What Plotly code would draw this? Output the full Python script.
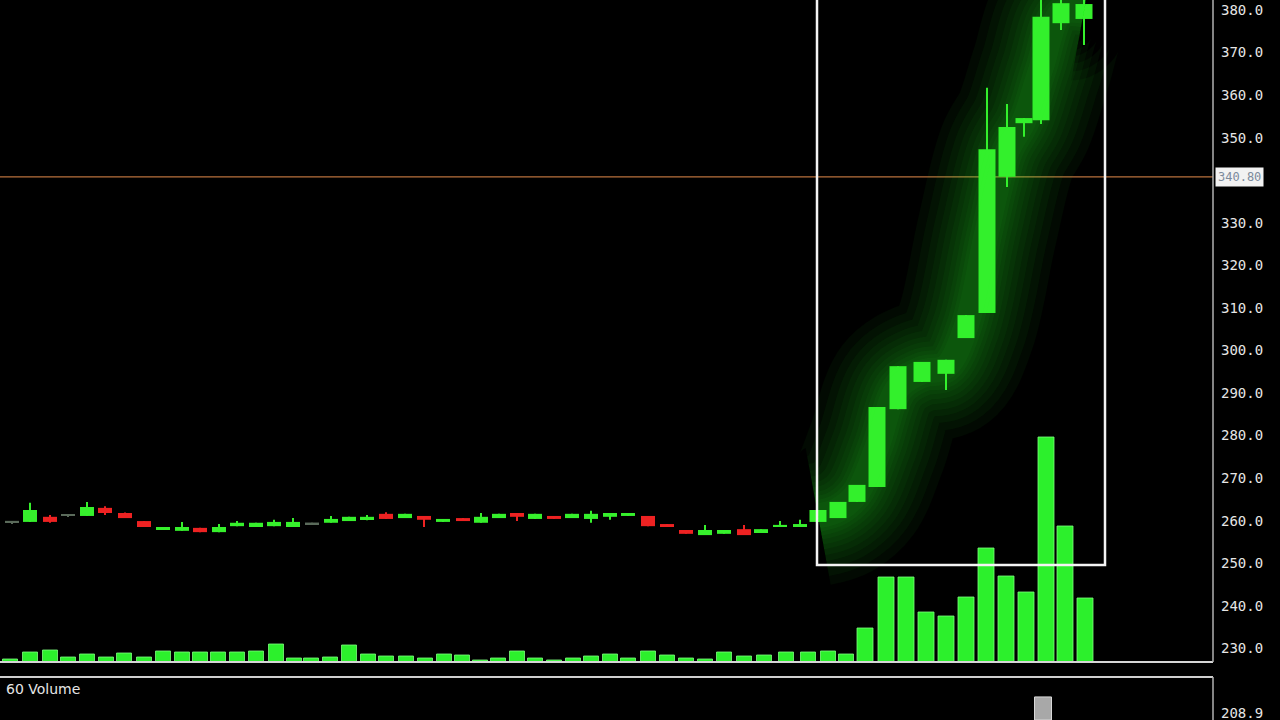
import plotly.graph_objects as go

# ---------------- data ----------------
t = [12, 30, 50, 68, 87, 105, 125, 144, 163, 182, 200, 219, 237, 256, 274, 293, 312, 331, 349, 367,
     386, 405, 424, 443, 463, 481, 499, 517, 535, 554, 572, 591, 610, 628, 648, 667, 686, 705, 724, 744,
     761, 780, 800, 818, 838, 857, 877, 898, 922, 946, 966, 987, 1007, 1024, 1041, 1061, 1084]
opens = [259.5, 259.7, 260.9, 261.1, 261.1, 263.0, 261.8, 259.9, 257.8, 257.6, 258.3, 257.3, 258.7, 258.5, 258.7,
         258.5, 259.1, 259.5, 259.9, 260.15, 261.6, 260.6, 261.1, 259.7, 260.6, 259.5, 260.6, 261.8, 260.4, 261.1,
         260.6, 260.4, 260.9, 261.1, 261.1, 259.2, 257.8, 256.6, 256.9, 258.0, 257.1, 258.5, 258.5, 259.7, 260.6,
         264.4, 267.9, 286.2, 292.6, 294.5, 302.9, 308.8, 340.8, 353.4, 354.1, 376.9, 377.9]
highs = [259.8, 264.2, 261.3, 261.3, 264.4, 263.4, 261.9, 259.9, 258.5, 259.7, 258.3, 259.2, 259.9, 259.5, 260.2,
         260.6, 259.5, 261.1, 260.9, 261.3, 262.0, 261.6, 261.1, 260.4, 260.6, 261.8, 261.6, 261.8, 261.6, 261.1,
         261.6, 262.3, 261.8, 261.8, 261.1, 259.2, 257.8, 259.0, 257.8, 259.0, 258.0, 259.9, 260.2, 262.5, 264.4,
         268.4, 286.7, 296.3, 297.3, 297.8, 308.3, 361.7, 357.9, 354.6, 384.0, 384.0, 384.0]
lows = [259.2, 259.7, 259.5, 260.9, 261.1, 261.3, 260.6, 258.5, 257.8, 257.6, 257.3, 257.3, 258.7, 258.5, 258.7,
        258.5, 259.0, 259.5, 259.9, 260.1, 260.4, 260.6, 258.5, 259.7, 259.9, 259.5, 260.6, 259.9, 260.4, 260.4,
        260.6, 259.5, 260.2, 261.1, 258.7, 258.5, 256.9, 256.6, 256.9, 256.6, 257.1, 258.5, 258.5, 259.7, 260.6,
        264.4, 267.9, 286.2, 292.6, 290.7, 302.9, 308.8, 338.4, 350.2, 353.2, 375.3, 371.8]
closes = [259.6, 262.5, 259.7, 261.2, 263.2, 261.8, 260.6, 258.5, 258.5, 258.5, 257.3, 258.5, 259.5, 259.5, 259.7,
          259.7, 259.2, 260.4, 260.9, 260.9, 260.4, 261.6, 260.2, 260.4, 259.9, 260.9, 261.6, 260.9, 261.6, 260.4,
          261.6, 261.6, 261.8, 261.8, 258.7, 258.5, 256.9, 257.8, 257.8, 256.6, 258.0, 259.0, 259.2, 262.5, 264.4,
          268.4, 286.7, 296.3, 297.3, 297.8, 308.3, 347.3, 352.5, 354.6, 378.4, 381.6, 381.4]

vol_t = [10, 30, 50, 68, 87, 106, 124, 144, 163, 182, 200, 218, 237, 256, 276, 294, 311, 330, 349, 368,
         386, 406, 425, 444, 462, 480, 498, 517, 535, 554, 573, 591, 610, 628, 648, 667, 686, 705, 724, 744,
         764, 786, 808, 828, 846, 865, 886, 906, 926, 946, 966, 986, 1006, 1026, 1046, 1065, 1085]
volume = [30, 100, 120, 50, 80, 50, 90, 50, 110, 100, 100, 100, 100, 110, 180, 40, 40, 50, 170, 80,
          60, 60, 40, 80, 70, 20, 40, 110, 40, 20, 40, 60, 80, 40, 110, 70, 40, 30, 100, 60,
          70, 100, 100, 110, 80, 340, 850, 850, 500, 460, 650, 1140, 860, 700, 2250, 1360, 640]

osc_t = [1043]
osc_val = [218.4]

price_ticks = [230, 240, 250, 260, 270, 280, 290, 300, 310, 320, 330, 350, 360, 370, 380]
osc_ticks = [208.9]
last_price = 340.8
panel_label = "60 Volume"

# ---------------- styling ----------------
GREEN = "#36f02c"
RED = "#ee2222"
GRAY = "#5a6a5a"
RISE_START = 43
PW = 1213  # plot-area width in px

colors = []
for o, c in zip(opens, closes):
    if abs(c - o) < 0.2:
        colors.append(GRAY)
    elif c > o:
        colors.append(GREEN)
    else:
        colors.append(RED)

body_base = [min(o, c) for o, c in zip(opens, closes)]
body_h = [max(abs(c - o), 0.45) for o, c in zip(opens, closes)]
wick_h = [h - l for h, l in zip(highs, lows)]
body_w = [14 if i < RISE_START else 17 for i in range(len(t))]
vol_w = [15 if v < 300 else 16 for v in volume]

fig = go.Figure()

# soft glow along the breakout (derived from candle mid-points)
gx = t[RISE_START:]
gy = [(o + c) / 2 for o, c in zip(opens[RISE_START:], closes[RISE_START:])]
for w in [140, 122, 106, 92, 80, 68, 58, 48, 40, 32, 25]:
    fig.add_trace(go.Scatter(x=gx, y=gy, mode="lines",
                             line=dict(color="rgba(40,255,40,0.038)", width=w, shape="spline"),
                             hoverinfo="skip", showlegend=False))

# wicks
fig.add_trace(go.Bar(x=t, y=wick_h, base=lows, width=2, marker=dict(color=colors, line=dict(width=0)),
                     showlegend=False, hoverinfo="skip"))
# bodies
fig.add_trace(go.Bar(x=t, y=body_h, base=body_base, width=body_w, marker=dict(color=colors, line=dict(width=0)),
                     showlegend=False, name="price"))
# volume
fig.add_trace(go.Bar(x=vol_t, y=volume, width=vol_w, yaxis="y2",
                     marker=dict(color="#2cf02c", line=dict(width=0.8, color="#7dff7d")),
                     showlegend=False, name="volume"))
# lower panel
fig.add_trace(go.Bar(x=osc_t, y=[v - 205 for v in osc_val], base=205, width=17, yaxis="y3",
                     marker=dict(color="#a8a8a8", line=dict(width=1, color="#d8d8d8")),
                     showlegend=False, name="osc"))

BOT = 58 / 720
PANEL_TOP = 43 / 720

fig.update_layout(
    width=1280, height=720,
    paper_bgcolor="black", plot_bgcolor="black",
    margin=dict(l=0, r=1280 - PW, t=0, b=0, autoexpand=False),
    barmode="overlay",
    xaxis=dict(range=[0, PW], visible=False, showgrid=False, zeroline=False),
    yaxis=dict(domain=[BOT, 1], range=[226.78, 382.35], side="right", tickvals=price_ticks,
               tickformat=".1f", showgrid=False, zeroline=False, showline=False, ticks="",
               ticklabelstandoff=7,
               tickfont=dict(family="DejaVu Sans Mono", size=14, color="#e6e6e6")),
    yaxis2=dict(domain=[BOT, 1], range=[0, 6620], overlaying="y", visible=False),
    yaxis3=dict(domain=[0, PANEL_TOP], range=[205, 230], side="right", anchor="x", tickvals=osc_ticks,
                tickformat=".1f", showgrid=False, zeroline=False, showline=False, ticks="",
                ticklabelstandoff=7, ticklabeloverflow="allow",
                tickfont=dict(family="DejaVu Sans Mono", size=14, color="#e6e6e6")),
    shapes=[
        dict(type="line", xref="paper", yref="y", x0=0, x1=1, y0=last_price, y1=last_price,
             line=dict(color="#b8703c", width=1.3), layer="below"),
        dict(type="rect", xref="x", yref="y", x0=817, x1=1105, y0=249.6, y1=392,
             line=dict(color="#f4f4f4", width=2.5)),
        dict(type="line", xref="paper", yref="paper", x0=0, x1=1, y0=BOT, y1=BOT,
             line=dict(color="#d6d6d6", width=2)),
        dict(type="line", xref="paper", yref="paper", x0=1, x1=1, y0=BOT, y1=1,
             line=dict(color="#b0b0b0", width=1.5)),
        dict(type="line", xref="paper", yref="paper", x0=0, x1=1, y0=PANEL_TOP, y1=PANEL_TOP,
             line=dict(color="#cfcfcf", width=2)),
        dict(type="line", xref="paper", yref="paper", x0=1, x1=1, y0=0, y1=PANEL_TOP,
             line=dict(color="#b0b0b0", width=1.5)),
    ],
    annotations=[
        dict(xref="paper", yref="y", x=1215 / PW, y=last_price, xanchor="left", yanchor="middle",
             text=f"{last_price:.2f}", showarrow=False, bgcolor="#f2f2f2", borderpad=2,
             font=dict(family="DejaVu Sans Mono", size=12, color="#7c8a9c")),
        dict(xref="paper", yref="paper", x=4 / PW, y=1 - 689 / 720, xanchor="left", yanchor="middle",
             text=panel_label, showarrow=False,
             font=dict(family="DejaVu Sans", size=14, color="#e6e6e6")),
    ],
)

fig.write_html("out.html", config={"displayModeBar": False},
               post_script="document.body.style.margin='0';document.body.style.background='black';")
